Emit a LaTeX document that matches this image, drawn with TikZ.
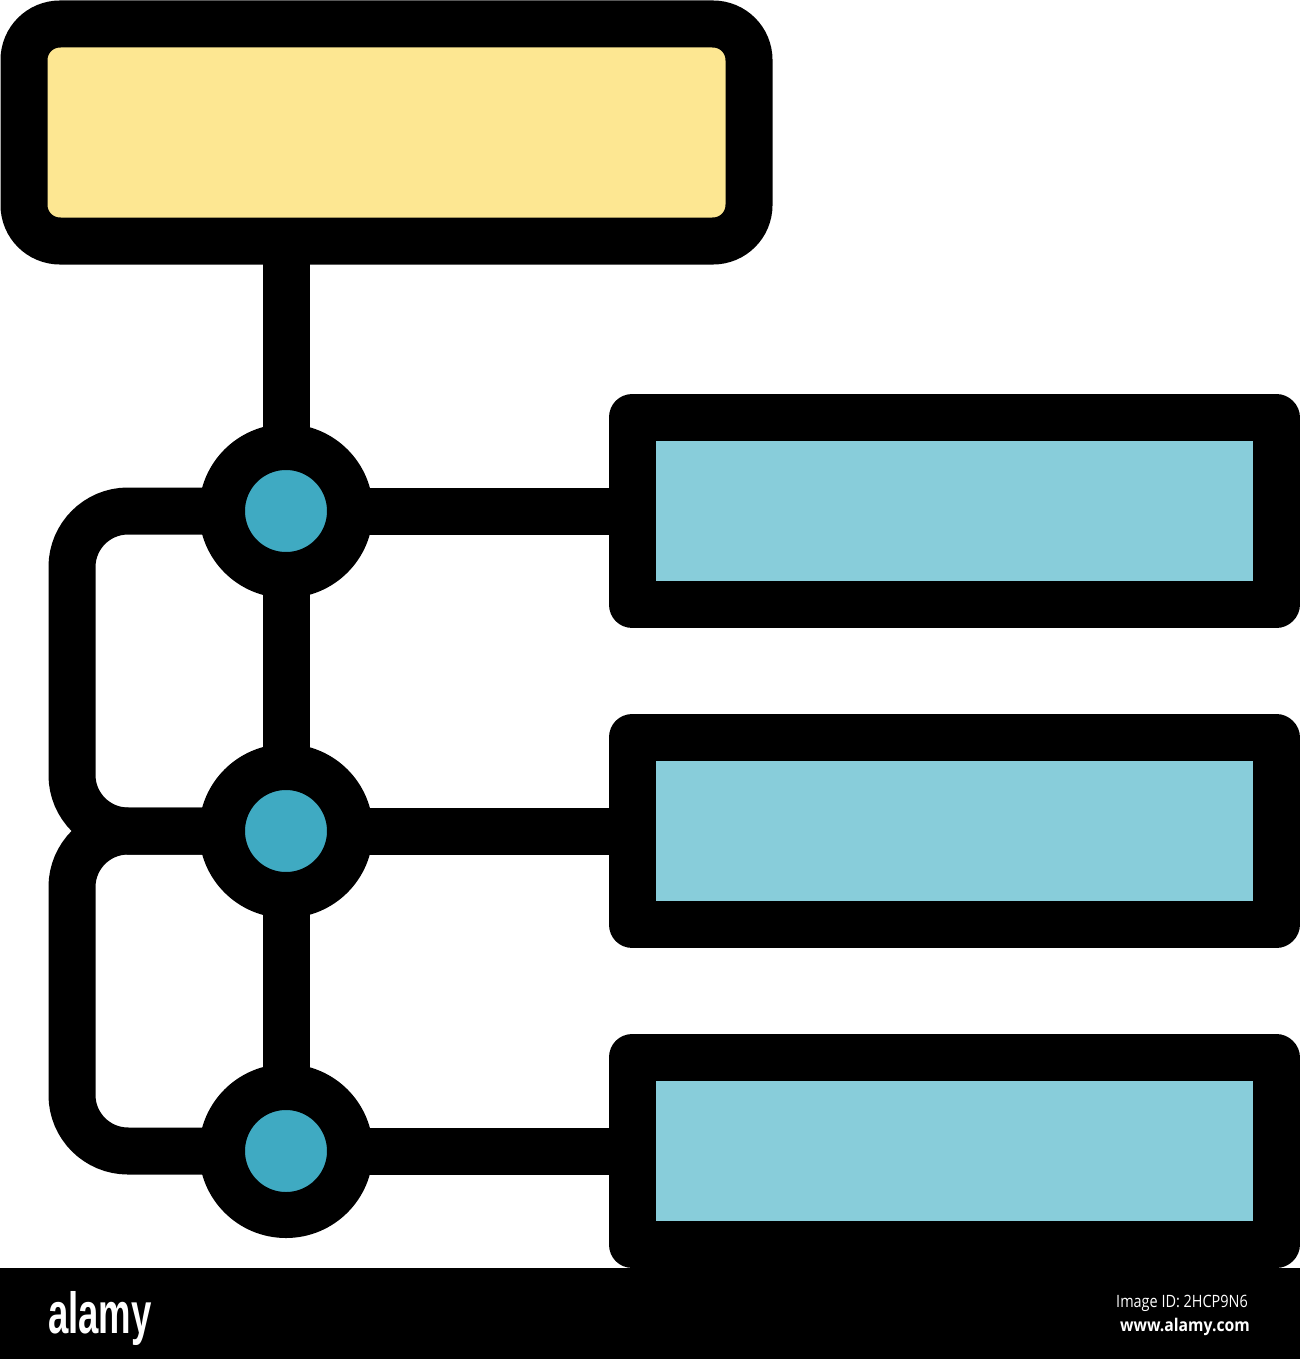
\documentclass[tikz,border=0pt]{standalone}
\usepackage{fontspec}
\setmainfont{Open Sans}
\newfontfamily\logofont{Liberation Sans}
\usetikzlibrary{backgrounds}
\definecolor{boxyellow}{RGB}{253,231,146}
\definecolor{boxblue}{RGB}{136,205,218}
\definecolor{dotblue}{RGB}{63,170,194}
\begin{document}
\begin{tikzpicture}[x=1pt,y=-1pt,
  link/.style={draw=black, line width=47pt},
  topbox/.style={draw=black, line width=47pt, fill=boxyellow, rounded corners=36pt, minimum width=725pt, minimum height=217pt, inner sep=0pt, outer sep=0pt},
  itembox/.style={draw=black, line width=47pt, line join=round, fill=boxblue, minimum width=644pt, minimum height=187pt, inner sep=0pt, outer sep=0pt},
  dot/.style={circle, draw=black, line width=46pt, fill=dotblue, minimum size=128pt, inner sep=0pt, outer sep=0pt},
  footer/.style={text=white, inner sep=0pt}]
\useasboundingbox (0,0) rectangle (1300,1359);

\node[topbox] (top) at (386.5,132.5) {};
\node[dot] (c1) at (286,511) {};
\node[dot] (c2) at (286,831) {};
\node[dot] (c3) at (286,1151) {};
\node[itembox] (b1) at (954,511) {};
\node[itembox] (b2) at (954,831) {};
\node[itembox] (b3) at (954,1151) {};
\coordinate (l1) at (72,511);
\coordinate (l2) at (72,831);
\coordinate (l3) at (72,1151);

\begin{scope}[on background layer]
  \fill[white] (0,0) rectangle (1300,1359);
  \draw[link] (c1 |- top.center) -- (c1.center);
  \draw[link] (c1.center) -- (c2.center);
  \draw[link] (c2.center) -- (c3.center);
  \draw[link] (c1.center) -- (b1.center);
  \draw[link] (c2.center) -- (b2.center);
  \draw[link] (c3.center) -- (b3.center);
  \draw[link, rounded corners=56pt] (c1.center) -- (l1) -- (l2) -- (c2.center);
  \draw[link, rounded corners=56pt] (c2.center) -- (l2) -- (l3) -- (c3.center);
\end{scope}

\fill[black] (0,1268) rectangle (1300,1359);
\node[footer, anchor=base west, xscale=0.63, font=\logofont\bfseries\fontsize{58}{58}\selectfont] (logo) at (48,1333) {alamy};
\node[footer, anchor=base east, xscale=0.85, font=\fontsize{17}{17}\selectfont] (imgid) at (1248,1307) {Image ID: 2HCP9N6};
\node[footer, anchor=base east, xscale=0.9, font=\bfseries\fontsize{17.5}{17.5}\selectfont] (url) at (1250,1331) {www.alamy.com};
\end{tikzpicture}
\end{document}
